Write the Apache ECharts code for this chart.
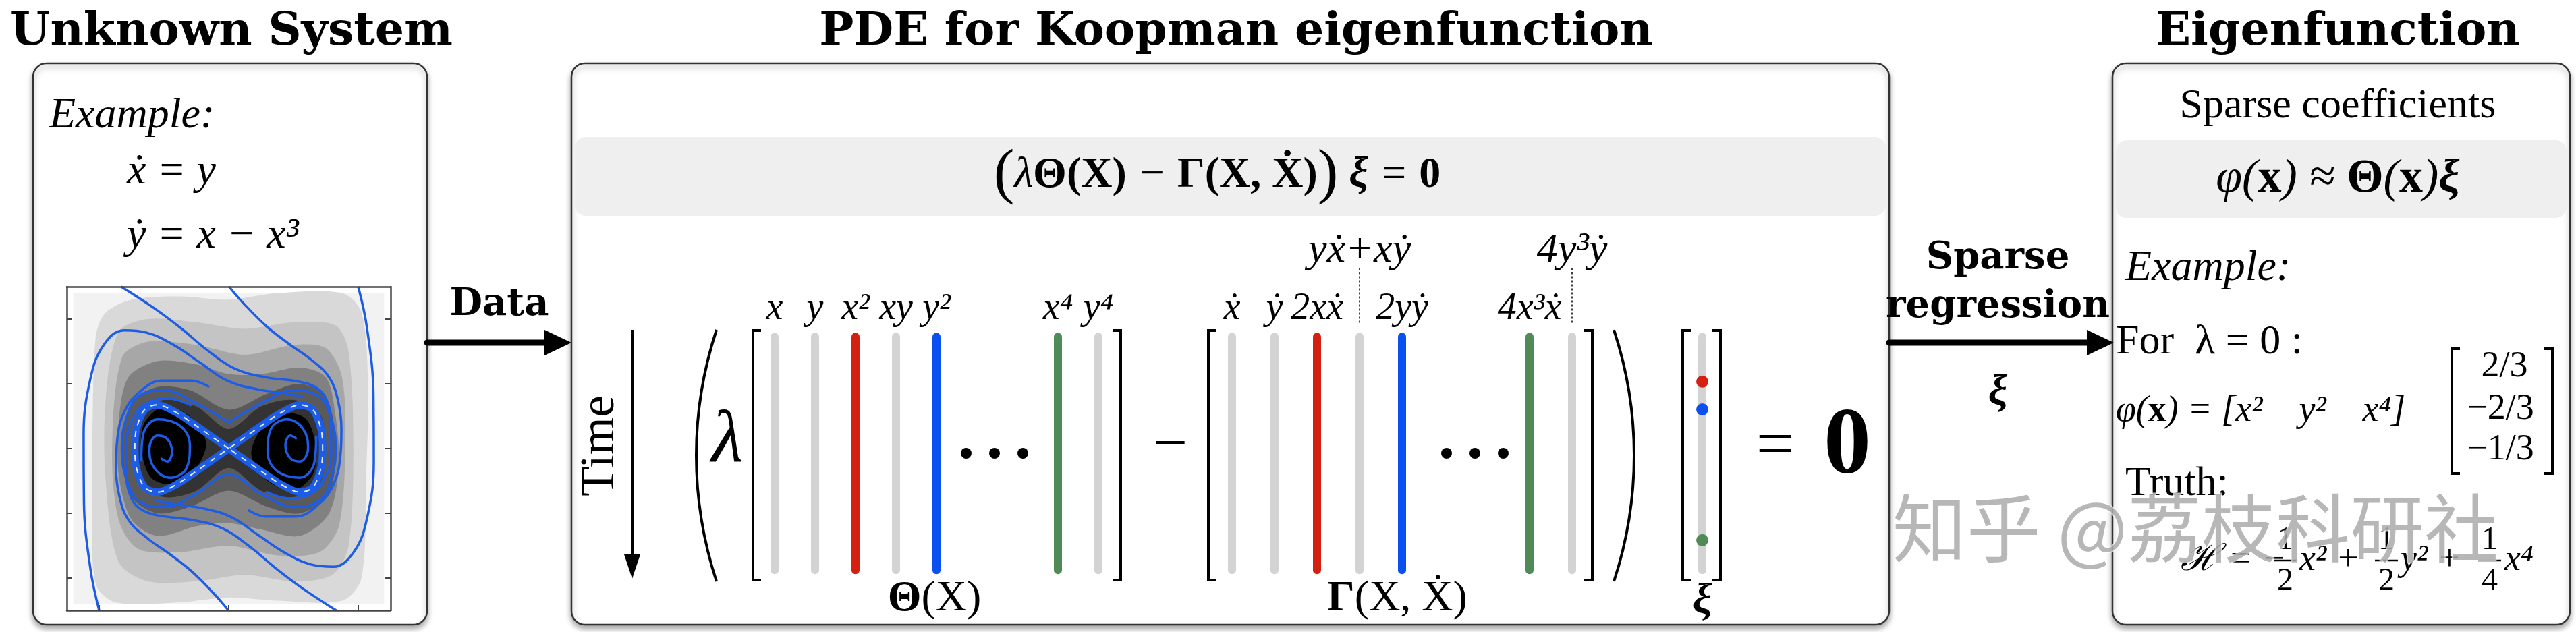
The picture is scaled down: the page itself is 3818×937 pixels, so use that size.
<!DOCTYPE html>
<html><head><meta charset="utf-8">
<script src="https://cdn.jsdelivr.net/npm/echarts@6/dist/echarts.min.js"></script>
<style>html,body{margin:0;background:#fff}#chart{width:3818px;height:937px}</style>
</head><body><div id="chart"></div>
<script>
// ---- phase portrait (plot units 0..100) ----
const shadePolys=[
  [[2,2],[98,2],[98,98],[2,98]],
  [[12,92],[20,96],[35,97],[50,96],[65,98],[85,98],[91,92],[93,70],[92.4,40],[91,10],[85,3],[65,3],[50,4],[35,2.5],[15,2.5],[9,8],[7.8,30],[8,60],[9,85]],
  [[16,86],[25,90],[40,89],[55,87],[70,89],[83,88],[87,80],[88.5,50],[87,20],[82,11],[70,9],[55,11],[40,9],[25,9],[16,15],[12,40],[12,65]],
  [[17,78],[25,83],[40,82],[55,79],[70,82],[80,81],[85,72],[86,50],[84,26],[78,18],[65,17],[50,20],[35,18],[22,19],[16,28],[14,50]],
  [[19,72],[28,77],[40,76],[50,73],[60,73],[72,75],[80,72],[83,60],[84,45],[81,30],[72,23],[60,25],[50,27],[40,26],[28,23],[20,28],[16,42],[16,58]],
  [[20,64],[28,69],[38,68],[50,62],[62,67],[72,70],[80,66],[83,52],[81,36],[72,30],[62,32],[50,37],[38,32],[28,30],[20,35],[17,48]],
  [[23,60],[30,65],[40,63],[50,56],[60,63],[70,65],[78,61],[80,50],[78,39],[70,35],[60,37],[50,44],[40,37],[30,35],[22,40],[21,50]],
  [[24,58],[30,63],[38,60],[43,52],[40,44],[33,39],[26,41],[23,50]],
  [[76,42],[70,37],[62,40],[57,48],[60,56],[67,61],[74,59],[77,50]]
];
const shadeColors=['#f2f2f2','#d9d9d9','#c4c4c4','#a7a7a7','#818181','#5a5a5a','#333333','#000000','#000000'];
const curveRight=[[90,100],[92.7,87.2],[94.7,66.4],[94.8,45.7],[92.7,28.4],[88.6,18],[82.3,13.5],[75.4,14.2],[67,18],[58.8,23.5],[50.5,29],[40.7,31.8],[32.4,32.9],[27,34]];
const curveLeft=[[10,0],[7.3,12.8],[5.3,33.6],[5.2,54.3],[7.3,71.6],[11.4,82],[17.7,86.5],[24.6,85.8],[33,82],[41.2,76.5],[49.5,71],[59.3,68.2],[67.6,67.1],[73,66]];
const curveMidTop=[[50.1,100],[54.6,94.8],[61.5,87.9],[68.5,82.4],[75.4,77.5],[81,72],[83.7,65],[84.8,56],[84.4,47],[82.3,38.8],[77.5,32.5],[70.5,29],[61.5,29],[56,31]];
const curveMidBot=[[49.9,0],[45.4,5.2],[38.5,12.1],[31.5,17.6],[24.6,22.5],[19,28],[16.3,35],[15.2,44],[15.6,53],[17.7,61.2],[22.5,67.5],[29.5,71],[38.5,71],[44,69]];
const curveTopL=[[16.8,100],[26.9,93.4],[35.2,87.2],[43.5,80.3],[51.8,74.7],[61.5,72],[72,70.6],[77.5,68.5],[80.2,65],[81.6,58],[81.6,48.4],[79.6,40.8],[75.4,36],[68.5,34.6],[61.5,36.7]];
const curveBotR=[[83.2,0],[73.1,6.6],[64.8,12.8],[56.5,19.7],[48.2,25.3],[38.5,28],[28,29.4],[22.5,31.5],[19.8,35],[18.4,42],[18.4,51.6],[20.4,59.2],[24.6,64],[31.5,65.4],[38.5,63.3]];
const outerLoop=[[50,58],[40,64],[30,68],[22,66],[18,58],[17,50],[18,42],[22,34],[30,32],[40,36],[50,42],[60,36],[70,32],[78,34],[82,42],[83,50],[82,58],[78,66],[70,68],[60,64],[50,58]];
const separatrix=[[50,50],[45,53.5],[40,57],[34,61],[28,63.5],[24,62],[21.5,56],[21,50],[21.5,44],[24,38],[28,36.5],[34,39],[40,43],[45,46.5],[50,50],[55,53.5],[60,57],[66,61],[72,63.5],[76,62],[78.5,56],[79,50],[78.5,44],[76,38],[72,36.5],[66,39],[60,43],[55,46.5],[50,50]];
const spiralL=[[29,47],[31,46],[32.5,49],[31,53],[28,54],[25.5,50],[27,44],[32,41],[37,44],[38,51],[35,57],[28,59],[23.5,54],[23,46]];
const spiralR=[[71,53],[69,54],[67.5,51],[69,47],[72,46],[74.5,50],[73,56],[68,59],[63,56],[62,49],[65,43],[72,41],[76.5,46],[77,54]];
const plotTicksX=[10,50,90], plotTicksY=[10,30,50,70,90];

// ---- matrices ----
const thetaLabels=['x','y','x²','xy','y²','','','x⁴','y⁴'];
const thetaCols=[[0,0],[1,0],[2,1],[3,0],[4,2],[7,3],[8,0]];
const gammaLabels=['ẋ','ẏ','2xẋ','','2yẏ','','','4x³ẋ',''];
const gammaRaised=[[3,'yẋ+xẏ'],[8,'4y³ẏ']];
const gammaCols=[[0,0],[1,0],[2,1],[3,0],[4,2],[7,3],[8,0]];
const xiDots=[[0,20.5,1],[0,31.6,2],[0,84,3]];
const COLS=['#d3d3d3','#d42010','#0a4ff0','#4f8a57'];

const SERIF='"Liberation Serif","DejaVu Serif",serif';
const BOLDT='"DejaVu Serif",serif';
const chart=echarts.init(document.getElementById('chart'));

function txt(text,x,y,size,opt){
  opt=opt||{};
  return {type:'text',z:opt.z||50,rotation:opt.rot||0,x:x,y:y,style:{text:text,x:0,y:0,fontSize:size,fontFamily:opt.ff||SERIF,
    fontWeight:opt.fw||'normal',fontStyle:opt.fs||'normal',fill:opt.fill||'#000',
    align:opt.align||'center',verticalAlign:'middle',rich:opt.rich,stroke:opt.stroke,lineWidth:opt.lw||0}};
}
function box(x,y,w,h){
  return {type:'rect',z:1,shape:{x:x,y:y,width:w,height:h,r:20},
    style:{fill:'#fff',stroke:'#333',lineWidth:2.5,shadowBlur:8,shadowOffsetY:5,shadowColor:'rgba(0,0,0,0.35)'}};
}
function band(x,y,w,h){return {type:'rect',z:2,shape:{x:x,y:y,width:w,height:h,r:16},style:{fill:'#efefef'}};}
function bracket(x,y1,y2,dir){
  return {type:'polyline',z:5,shape:{points:[[x+dir*12,y1],[x,y1],[x,y2],[x+dir*12,y2]]},style:{stroke:'#000',lineWidth:4,fill:null}};
}
function arrowH(x1,x2,y){
  return [{type:'line',z:5,shape:{x1:x1,y1:y,x2:x2-30,y2:y},style:{stroke:'#000',lineWidth:9,lineCap:'round'}},
    {type:'polygon',z:5,shape:{points:[[x2-40,y-19],[x2,y],[x2-40,y+19]]},style:{fill:'#000'}}];
}
function dots3(cx,cy){
  return [-42,0,42].map(d=>({type:'circle',z:5,shape:{cx:cx+d,cy:cy,r:8},style:{fill:'#000'}}));
}
const bRich=s=>({b:{fontWeight:'bold',fontStyle:'normal',fontSize:s,fontFamily:SERIF},bi:{fontWeight:'bold',fontStyle:'italic',fontSize:s,fontFamily:SERIF}});

const graphic=[
  box(49,94,584,832), box(847,94,1953,832), box(3131,94,678,832),
  band(852,203,1943,117), band(3136,208,668,115),
  txt('Unknown System',343,48,68,{fw:'bold',ff:BOLDT}),
  txt('PDE for Koopman eigenfunction',1832,48,68,{fw:'bold',ff:BOLDT}),
  txt('Eigenfunction',3465,48,68,{fw:'bold',ff:BOLDT}),
  txt('Example:',73,172,64,{fs:'italic',align:'left'}),
  txt('ẋ = y',188,255,64,{fs:'italic',align:'left'}),
  txt('ẏ = x − x³',188,350,64,{fs:'italic',align:'left'}),
  ...arrowH(633,847,508),
  txt('Data',740,452,56,{fw:'bold',ff:BOLDT}),
  ...arrowH(2800,3133,508),
  txt('Sparse',2961,383,56,{fw:'bold',ff:BOLDT}),
  txt('regression',2961,455,56,{fw:'bold',ff:BOLDT}),
  txt('ξ',2961,583,64,{fw:'bold',fs:'italic'}),
  txt('{p|(}λ{b|Θ(X)} − {b|Γ(X, Ẋ)}{p|)} {bi|ξ} = {b|0}',1804,260,64,{fs:'italic',
     rich:Object.assign(bRich(64),{p:{fontSize:92,fontFamily:SERIF}})}),
  txt('Time',890,661,72,{rot:Math.PI/2}),
  {type:'line',z:5,shape:{x1:937,y1:489,x2:937,y2:830},style:{stroke:'#000',lineWidth:4}},
  {type:'polygon',z:5,shape:{points:[[925,822],[937,858],[949,822]]},style:{fill:'#000'}},
  {type:'bezierCurve',z:5,shape:{x1:1062,y1:489,cpx1:1022,cpy1:610,cpx2:1022,cpy2:740,x2:1062,y2:862},style:{stroke:'#000',lineWidth:4,fill:null}},
  {type:'bezierCurve',z:5,shape:{x1:2392,y1:489,cpx1:2432,cpy1:610,cpx2:2432,cpy2:740,x2:2392,y2:862},style:{stroke:'#000',lineWidth:4,fill:null}},
  txt('λ',1078,655,110,{fs:'italic'}),
  bracket(1116,490,860,1), bracket(1661,490,860,-1),
  bracket(1791,490,860,1), bracket(2360,490,860,-1),
  bracket(2494,490,860,1), bracket(2550,490,860,-1),
  ...dots3(1474,672), ...dots3(2186,672),
  txt('−',1735,662,90),
  txt('=',2631,665,100),
  txt('0',2738,665,140,{fw:'bold'}),
  txt('{b|Θ}(X)',1385,888,64,{rich:bRich(64)}),
  txt('{b|Γ}(X, Ẋ)',2071,888,64,{rich:bRich(64)}),
  txt('ξ',2523,892,64,{fw:'bold',fs:'italic'}),
  txt('Sparse coefficients',3465,158,62),
  txt('φ({b|x}) ≈ {b|Θ}({b|x}){bi|ξ}',3465,266,70,{fs:'italic',rich:bRich(70)}),
  txt('Example:',3150,398,64,{fs:'italic',align:'left'}),
  txt('For  λ = 0 :',3136,508,62,{align:'left'}),
  txt('φ({b|x}) = [x²    y²    x⁴]',3136,610,54,{align:'left',fs:'italic',rich:bRich(54)}),
  txt('2/3',3712,544,54), txt('−2/3',3706,607,54), txt('−1/3',3706,667,54),
  bracket(3634,517,702,1), bracket(3783,517,702,-1),
  txt('Truth:',3150,718,62,{align:'left'}),
  txt('ℋ = −',3232,831,54,{fs:'italic',align:'left'}),
  txt('1',3387,801,48), {type:'line',z:50,shape:{x1:3370,y1:831,x2:3404,y2:831},style:{stroke:'#000',lineWidth:2.5}}, txt('2',3387,862,48),
  txt('x² +',3408,831,54,{fs:'italic',align:'left'}),
  txt('1',3537,801,48), {type:'line',z:50,shape:{x1:3520,y1:831,x2:3554,y2:831},style:{stroke:'#000',lineWidth:2.5}}, txt('2',3537,862,48),
  txt('y² +',3558,831,54,{fs:'italic',align:'left'}),
  txt('1',3690,801,48), {type:'line',z:50,shape:{x1:3673,y1:831,x2:3707,y2:831},style:{stroke:'#000',lineWidth:2.5}}, txt('4',3690,862,48),
  txt('x⁴',3712,831,54,{fs:'italic',align:'left'}),
  txt('知乎 @荔枝科研社',3254,783,110,{ff:'"Noto Sans CJK SC",sans-serif',fill:'rgba(170,170,170,0.85)',stroke:'rgba(255,255,255,0.7)',lw:3,z:90})
];

function polyItem(params,api){
  const i=params.dataIndex;
  const pts=shadePolys[i].map(p=>api.coord(p));
  return {type:'polygon',shape:{points:pts,smooth:i===0?0:0.3},style:{fill:shadeColors[i]}};
}
function colItem(params,api){
  const s=api.value(0), a=api.coord([s,2.5]), b=api.coord([s,96]);
  return {type:'line',shape:{x1:a[0],y1:a[1],x2:b[0],y2:b[1]},style:{stroke:COLS[api.value(1)],lineWidth:12,lineCap:'round'}};
}
function raisedItem(params,api){
  const s=api.value(0), t=api.coord([s,-32]), a=api.coord([s,-25]), b=api.coord([s,-3]);
  return {type:'group',children:[
    {type:'line',shape:{x1:a[0],y1:a[1],x2:b[0],y2:b[1]},style:{stroke:'#000',lineWidth:1.5,lineDash:[3,3]}},
    {type:'text',style:{text:gammaRaised[params.dataIndex][1],x:t[0],y:t[1],fontSize:62,fontStyle:'italic',fontFamily:SERIF,align:'center',verticalAlign:'middle',fill:'#000'}}]};
}
function dotItem(params,api){
  const c=api.coord([api.value(0),api.value(1)]);
  return {type:'circle',z2:5,shape:{cx:c[0],cy:c[1],r:9},style:{fill:COLS[api.value(2)]}};
}
const line=(d,w,c,extra)=>Object.assign({type:'line',xAxisIndex:0,yAxisIndex:0,data:d,smooth:0.4,symbol:'none',silent:true,
  lineStyle:{color:c||'#1d5ce6',width:w||3.5},z:3},extra||{});
const hidden={show:false};
const frame={show:true,onZero:false,lineStyle:{color:'#444',width:2.5}};
const matY=i=>({gridIndex:i,type:'value',min:0,max:100,inverse:true,show:false});
const matX=(i,labels)=>({gridIndex:i,z:20,type:'category',data:labels,position:'top',axisLine:hidden,axisTick:hidden,
  axisLabel:{show:true,interval:0,fontSize:56,fontStyle:'italic',fontFamily:SERIF,color:'#000',margin:4}});

chart.setOption({
  animation:false,
  graphic:graphic,
  grid:[
    {left:99,top:425,width:480,height:480},
    {left:1118,top:490,width:540,height:370},
    {left:1794.5,top:490,width:567,height:370},
    {left:2502,top:490,width:42,height:370}
  ],
  xAxis:[
    {gridIndex:0,z:20,type:'value',min:0,max:100,axisLabel:hidden,splitLine:hidden,axisLine:frame,
      axisTick:{show:true,inside:true,customValues:plotTicksX,length:8,lineStyle:{color:'#444',width:2}}},
    {gridIndex:0,z:20,type:'value',min:0,max:100,position:'top',axisLabel:hidden,splitLine:hidden,axisTick:hidden,axisLine:frame},
    matX(1,thetaLabels), matX(2,gammaLabels),
    {gridIndex:3,type:'category',data:['ξ'],show:false}
  ],
  yAxis:[
    {gridIndex:0,z:20,type:'value',min:0,max:100,axisLabel:hidden,splitLine:hidden,axisLine:frame,
      axisTick:{show:true,inside:true,customValues:plotTicksY,length:8,lineStyle:{color:'#444',width:2}}},
    {gridIndex:0,z:20,type:'value',min:0,max:100,position:'right',axisLabel:hidden,splitLine:hidden,axisLine:frame,
      axisTick:{show:true,inside:true,customValues:plotTicksY,length:8,lineStyle:{color:'#444',width:2}}},
    matY(1),matY(2),matY(3)
  ],
  series:[
    {type:'custom',xAxisIndex:0,yAxisIndex:0,data:shadePolys.map((p,i)=>[i]),renderItem:polyItem,z:2,silent:true},
    line(curveRight),line(curveLeft),line(curveMidTop),line(curveMidBot),line(curveTopL),line(curveBotR),
    line(outerLoop,3.5),
    line(separatrix,11,'#1d5ce6',{smooth:0.3}),
    line(separatrix,2,'#e8eef0',{smooth:0.3,lineStyle:{color:'#e5ecef',width:2,type:[9,9]},z:4}),
    line(spiralL,3.5),line(spiralR,3.5),
    {type:'custom',xAxisIndex:2,yAxisIndex:2,data:thetaCols,renderItem:colItem,silent:true,z:5},
    {type:'custom',xAxisIndex:3,yAxisIndex:3,data:gammaCols,renderItem:colItem,silent:true,z:5},
    {type:'custom',xAxisIndex:3,yAxisIndex:3,data:gammaRaised.map(r=>[r[0]]),renderItem:raisedItem,silent:true,clip:false,z:5},
    {type:'custom',xAxisIndex:4,yAxisIndex:4,data:[[0,0]],renderItem:colItem,silent:true,z:5},
    {type:'custom',xAxisIndex:4,yAxisIndex:4,data:xiDots,renderItem:dotItem,silent:true,z:6}
  ]
});
</script></body></html>
